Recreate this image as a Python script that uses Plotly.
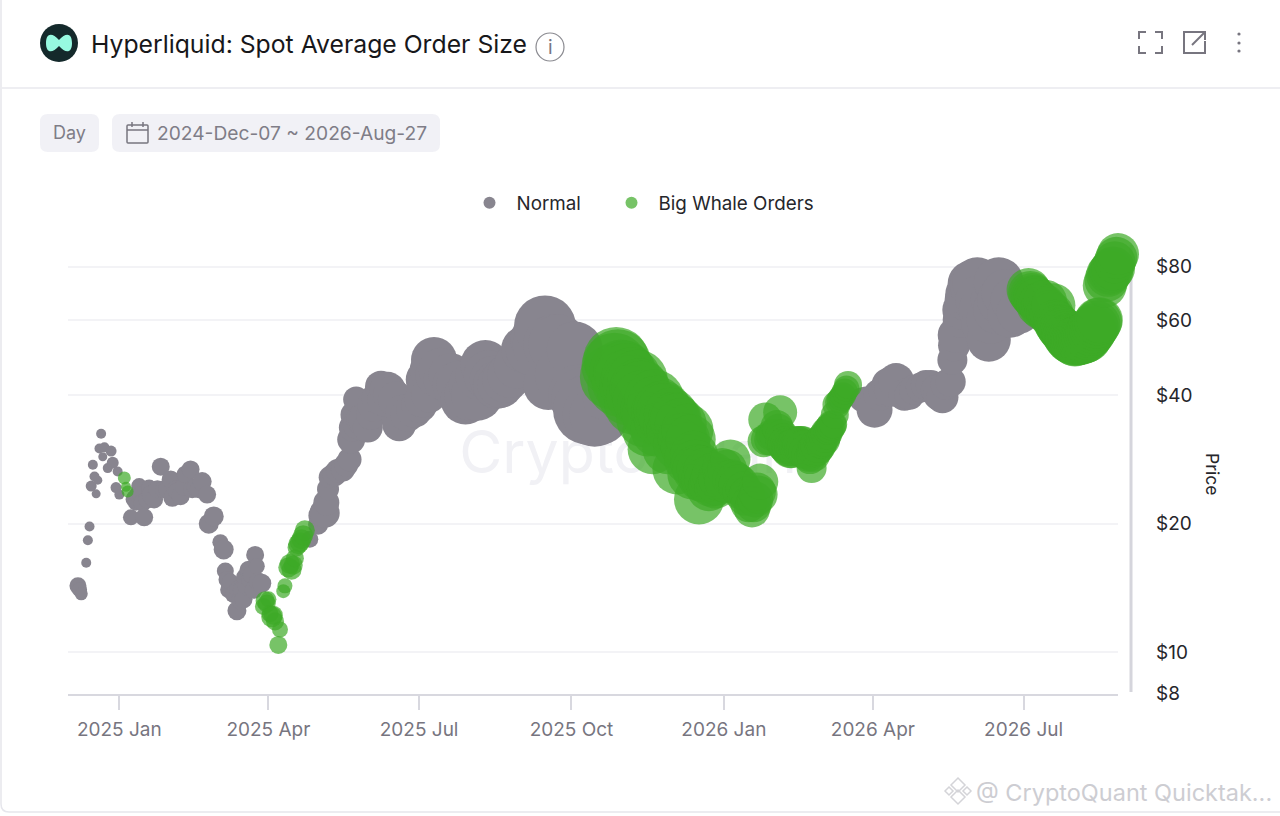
import plotly.graph_objects as go

# values, date / price / avg order size ($k)
normal_dates = [
    "2024-12-07","2024-12-08","2024-12-09","2024-12-12","2024-12-13","2024-12-14","2024-12-15","2024-12-16",
    "2024-12-17","2024-12-18","2024-12-19","2024-12-20","2024-12-21","2024-12-22","2024-12-23","2024-12-25",
    "2024-12-27","2024-12-28","2024-12-30","2024-12-31","2025-01-01","2025-01-08","2025-01-09","2025-01-10",
    "2025-01-11","2025-01-12","2025-01-13","2025-01-14","2025-01-15","2025-01-16","2025-01-18","2025-01-19",
    "2025-01-20","2025-01-22","2025-01-24","2025-01-26","2025-01-28","2025-01-30","2025-02-01","2025-02-02",
    "2025-02-04","2025-02-05","2025-02-07","2025-02-09","2025-02-10","2025-02-13","2025-02-14","2025-02-16",
    "2025-02-18","2025-02-20","2025-02-23","2025-02-24","2025-02-27","2025-03-03","2025-03-05","2025-03-06",
    "2025-03-07","2025-03-08","2025-03-09","2025-03-11","2025-03-12","2025-03-13","2025-03-14","2025-03-15",
    "2025-03-16","2025-03-17","2025-03-18","2025-03-19","2025-03-20","2025-03-21","2025-03-22","2025-03-23",
    "2025-03-24","2025-03-25","2025-03-26","2025-03-28","2025-04-26","2025-05-01","2025-05-03","2025-05-05",
    "2025-05-06","2025-05-07","2025-05-08","2025-05-11","2025-05-13","2025-05-16","2025-05-18","2025-05-20",
    "2025-05-21","2025-05-22","2025-05-23","2025-05-24","2025-05-25","2025-05-27","2025-05-29","2025-05-31",
    "2025-06-02","2025-06-04","2025-06-06","2025-06-08","2025-06-10","2025-06-12","2025-06-14","2025-06-17",
    "2025-06-19","2025-06-21","2025-06-24","2025-06-28","2025-07-01","2025-07-03","2025-07-05","2025-07-07",
    "2025-07-08","2025-07-10","2025-07-12","2025-07-14","2025-07-17","2025-07-20","2025-07-23","2025-07-26",
    "2025-07-29","2025-08-01","2025-08-03","2025-08-05","2025-08-07","2025-08-10","2025-08-12","2025-08-15",
    "2025-08-17","2025-08-19","2025-08-22","2025-08-25","2025-08-29","2025-09-03","2025-09-07","2025-09-11",
    "2025-09-13","2025-09-15","2025-09-17","2025-09-20","2025-09-23","2025-09-27","2025-10-03","2025-10-05",
    "2025-10-08","2025-10-11","2025-10-15","2025-10-18","2025-10-20","2026-03-25","2026-03-28","2026-04-02",
    "2026-04-05","2026-04-08","2026-04-10","2026-04-12","2026-04-15","2026-04-20","2026-04-23","2026-04-26",
    "2026-04-30","2026-05-03","2026-05-06","2026-05-09","2026-05-11","2026-05-13","2026-05-15","2026-05-18",
    "2026-05-19","2026-05-20","2026-05-21","2026-05-24","2026-05-25","2026-05-27","2026-05-28","2026-05-30",
    "2026-06-01","2026-06-03","2026-06-05","2026-06-07","2026-06-08","2026-06-10","2026-06-11","2026-06-13",
    "2026-06-15","2026-06-16","2026-06-18","2026-06-20","2026-06-23","2026-06-25","2026-06-28"]
normal_price = [
    14.3,14.0,13.7,16.2,18.3,19.7,24.5,27.5,
    25.8,23.5,25.3,30.0,32.5,28.7,30.2,27.0,
    29.6,27.8,24.3,26.5,23.4,20.7,22.8,23.0,
    22.4,23.4,24.5,23.4,22.4,20.7,22.8,24.3,
    23.4,22.8,24.1,27.2,24.1,24.1,25.4,23.0,
    24.1,23.8,23.2,24.4,26.1,26.8,24.1,24.4,
    24.1,25.1,23.4,20.0,20.8,18.1,17.4,15.5,
    14.8,14.0,14.6,13.7,13.7,12.5,14.0,13.2,
    14.0,13.3,15.0,14.3,15.6,14.8,15.2,14.0,
    16.9,15.9,14.6,14.5,18.4,19.9,20.9,21.2,
    22.4,24.1,25.7,26.1,26.6,26.8,27.5,28.3,
    31.5,33.6,36.0,39.1,34.2,35.1,35.1,33.6,
    36.0,38.0,39.5,41.9,39.1,41.2,40.1,39.1,
    34.2,36.6,36.0,37.0,38.0,39.1,43.5,40.1,
    45.9,48.4,44.6,45.9,43.5,44.6,42.3,42.4,
    39.1,40.1,42.3,40.1,44.6,47.1,44.6,43.5,
    42.3,42.3,43.5,44.6,47.0,51.2,51.2,54.0,
    52.6,58.0,42.3,52.6,52.6,44.6,51.2,40.1,
    39.1,37.0,36.0,36.0,39.1,39.1,39.1,37.0,
    40.1,41.0,42.5,41.2,43.2,40.1,40.1,41.2,
    41.7,42.3,42.3,41.2,40.1,39.6,42.3,43.0,
    48.4,52.4,55.4,60.1,63.4,66.9,69.0,73.0,
    72.5,73.6,66.9,63.4,58.8,54.0,60.1,66.9,
    63.4,73.6,66.9,69.4,61.8,66.9,62.7]
normal_order_size = [
    1.7,1.5,1.3,1.0,1.0,1.0,1.1,1.0,
    1.0,0.9,0.9,1.0,1.0,0.9,1.0,1.0,
    1.1,1.2,1.1,1.0,1.0,1.6,1.4,1.6,
    1.6,1.7,1.6,1.7,1.8,1.8,1.8,1.6,
    1.8,1.8,1.8,1.8,1.8,1.8,1.8,1.8,
    1.8,1.8,1.8,1.8,1.8,1.8,1.8,1.8,
    1.8,1.9,1.8,2.0,2.0,1.6,2.0,1.7,
    1.7,1.7,1.7,1.8,1.9,1.9,1.9,1.8,
    1.8,1.8,1.8,1.9,1.8,1.8,1.8,1.8,
    1.8,1.6,1.9,1.9,1.7,2.0,2.6,3.0,
    2.6,2.2,2.2,2.4,2.4,2.4,2.4,2.4,
    2.8,2.8,2.8,2.6,3.0,3.0,3.2,3.0,
    3.0,3.4,3.2,3.2,3.4,3.6,3.6,3.6,
    3.4,3.4,3.4,3.6,3.6,3.6,4.0,3.6,
    4.2,4.6,4.4,4.4,4.4,4.4,4.6,4.8,
    5.0,5.2,5.0,5.2,5.0,5.0,5.0,4.8,
    4.8,4.6,4.6,4.6,4.6,4.8,5.2,5.6,
    5.8,6.2,5.0,6.0,6.0,6.0,5.6,6.0,
    6.4,7.0,6.4,6.0,4.0,2.4,2.6,3.6,
    3.2,3.2,3.2,3.4,3.6,3.2,3.0,3.0,
    3.0,3.0,3.0,3.0,3.2,3.2,3.0,3.0,
    3.0,3.2,3.6,3.6,4.0,4.2,4.4,4.6,
    4.8,5.0,5.0,5.0,4.8,4.4,4.8,4.6,
    4.8,5.0,5.0,4.8,4.6,4.6,4.4]

whale_dates = [
    "2025-01-04","2025-01-05","2025-01-06","2025-03-29","2025-03-30","2025-03-31","2025-04-01","2025-04-02",
    "2025-04-03","2025-04-04","2025-04-05","2025-04-07","2025-04-08","2025-04-10","2025-04-11","2025-04-13",
    "2025-04-14","2025-04-15","2025-04-16","2025-04-17","2025-04-18","2025-04-19","2025-04-20","2025-04-21",
    "2025-04-22","2025-04-23","2025-10-26","2025-10-27","2025-10-28","2025-10-29","2025-10-30","2025-10-31",
    "2025-11-01","2025-11-02","2025-11-03","2025-11-04","2025-11-05","2025-11-06","2025-11-07","2025-11-08",
    "2025-11-09","2025-11-10","2025-11-11","2025-11-12","2025-11-13","2025-11-14","2025-11-15","2025-11-16",
    "2025-11-17","2025-11-18","2025-11-19","2025-11-20","2025-11-21","2025-11-22","2025-11-23","2025-11-24",
    "2025-11-25","2025-11-26","2025-11-27","2025-11-28","2025-11-29","2025-11-30","2025-12-01","2025-12-02",
    "2025-12-03","2025-12-04","2025-12-05","2025-12-06","2025-12-07","2025-12-08","2025-12-09","2025-12-10",
    "2025-12-11","2025-12-12","2025-12-13","2025-12-14","2025-12-15","2025-12-16","2025-12-17","2025-12-18",
    "2025-12-19","2025-12-20","2025-12-21","2025-12-22","2025-12-23","2025-12-24","2025-12-25","2025-12-26",
    "2025-12-27","2025-12-28","2025-12-29","2025-12-30","2025-12-31","2026-01-01","2026-01-02","2026-01-03",
    "2026-01-05","2026-01-06","2026-01-08","2026-01-09","2026-01-10","2026-01-11","2026-01-13","2026-01-14",
    "2026-01-15","2026-01-16","2026-01-18","2026-01-19","2026-01-20","2026-01-21","2026-01-22","2026-01-23",
    "2026-01-25","2026-01-26","2026-01-27","2026-01-29","2026-01-30","2026-02-01","2026-02-02","2026-02-03",
    "2026-02-04","2026-02-05","2026-02-06","2026-02-07","2026-02-08","2026-02-09","2026-02-10","2026-02-11",
    "2026-02-12","2026-02-13","2026-02-14","2026-02-15","2026-02-16","2026-02-17","2026-02-18","2026-02-19",
    "2026-02-20","2026-02-21","2026-02-22","2026-02-23","2026-02-24","2026-02-25","2026-02-26","2026-02-27",
    "2026-02-28","2026-03-01","2026-03-02","2026-03-03","2026-03-04","2026-03-05","2026-03-06","2026-03-07",
    "2026-03-08","2026-03-09","2026-03-10","2026-03-11","2026-03-12","2026-03-13","2026-03-14","2026-03-15",
    "2026-03-16","2026-03-17","2026-07-04","2026-07-05","2026-07-06","2026-07-07","2026-07-08","2026-07-09",
    "2026-07-10","2026-07-11","2026-07-12","2026-07-13","2026-07-14","2026-07-15","2026-07-16","2026-07-17",
    "2026-07-18","2026-07-19","2026-07-20","2026-07-21","2026-07-22","2026-07-23","2026-07-24","2026-07-25",
    "2026-07-26","2026-07-27","2026-07-28","2026-07-29","2026-07-30","2026-07-31","2026-08-01","2026-08-02",
    "2026-08-03","2026-08-04","2026-08-05","2026-08-06","2026-08-07","2026-08-08","2026-08-09","2026-08-10",
    "2026-08-11","2026-08-12","2026-08-13","2026-08-14","2026-08-15","2026-08-16","2026-08-19","2026-08-20",
    "2026-08-21","2026-08-22","2026-08-23","2026-08-24","2026-08-25","2026-08-26","2026-08-27"]
whale_price = [
    25.6,24.4,23.8,12.8,13.2,13.0,13.3,12.3,
    12.1,12.2,11.8,10.4,11.3,13.9,14.3,15.8,
    16.1,15.6,16.0,16.6,17.6,17.9,18.1,18.4,
    18.8,19.3,44.2,46.9,48.4,47.8,42.3,45.4,
    43.0,45.4,44.8,40.0,42.3,44.0,42.3,38.0,
    40.0,43.5,41.5,41.0,39.0,35.1,38.0,32.9,
    37.0,36.0,29.9,39.1,38.0,33.2,36.7,35.0,
    37.0,36.7,35.1,29.9,34.0,36.0,33.2,35.4,
    35.1,26.8,30.7,34.2,31.8,31.5,30.2,33.2,
    28.3,31.5,26.1,29.0,27.5,26.8,22.8,26.8,
    25.6,25.4,26.8,25.4,24.1,24.7,25.4,26.1,
    24.3,24.7,25.6,25.4,27.0,25.6,25.1,26.8,
    28.3,25.4,25.1,24.5,24.7,23.8,24.1,23.0,
    23.4,22.2,21.6,22.2,22.8,23.8,23.4,25.1,
    31.2,35.1,31.5,31.5,32.3,32.3,33.9,33.2,
    36.5,32.0,31.2,30.6,30.6,30.2,29.9,29.9,
    30.2,30.2,30.6,30.4,30.6,30.6,30.0,29.9,
    29.5,29.0,28.5,27.0,29.0,29.9,30.2,30.6,
    31.0,31.0,31.5,32.0,32.6,33.2,33.5,34.0,
    34.2,36.0,38.0,38.5,39.0,39.5,40.0,40.8,
    41.5,42.3,70.6,69.5,68.7,68.0,67.5,66.9,
    65.0,65.5,64.0,65.0,66.3,63.5,62.5,61.8,
    62.0,65.0,59.5,58.8,58.0,57.5,57.0,56.5,
    56.0,55.2,54.6,54.2,54.0,53.7,53.5,53.7,
    53.8,54.0,54.0,54.2,54.4,54.6,55.2,55.8,
    56.4,57.0,57.8,58.6,59.5,60.0,72.3,74.5,
    76.6,77.5,78.5,79.3,82.0,84.0,85.7]
whale_order_size = [
    1.3,1.0,1.2,1.7,1.9,1.8,1.6,1.7,
    2.1,1.9,1.8,1.8,1.6,1.4,1.5,2.0,
    2.0,2.0,1.9,1.8,1.8,2.0,2.0,2.0,
    2.0,2.0,6.6,6.6,6.6,6.6,6.4,6.4,
    6.2,6.2,6.2,6.0,6.0,6.0,6.0,6.0,
    6.0,6.0,6.0,6.0,6.0,5.6,5.8,5.0,
    5.8,5.8,5.0,6.0,5.8,5.4,5.6,5.4,
    5.8,5.6,5.4,5.0,5.2,5.4,5.2,5.2,
    5.2,5.0,5.2,5.2,5.0,5.2,5.0,5.2,
    5.0,5.0,5.0,4.8,5.0,5.0,5.0,4.8,
    4.8,4.6,4.4,4.6,4.4,4.4,4.4,4.4,
    4.2,4.2,4.2,4.4,4.0,4.0,4.2,4.0,
    4.0,4.0,4.0,3.8,4.0,3.6,3.6,3.6,
    3.6,3.6,3.6,3.6,3.6,3.8,3.8,3.6,
    3.2,3.4,3.2,3.2,3.2,3.2,3.2,3.2,
    3.4,3.4,3.6,3.6,3.8,3.8,3.8,3.8,
    3.8,3.8,3.8,3.8,3.8,3.8,3.8,3.8,
    3.6,3.4,3.2,3.0,3.4,3.6,3.6,3.6,
    3.2,3.2,3.4,3.2,3.2,3.0,3.0,3.0,
    2.8,2.8,2.8,2.6,2.6,2.6,2.6,2.6,
    2.6,2.8,4.4,4.4,4.4,4.4,4.4,4.4,
    4.4,4.4,4.4,4.4,4.4,4.4,4.4,4.4,
    4.4,4.4,4.4,4.5,4.5,4.6,4.6,4.7,
    4.7,4.8,4.8,4.9,4.9,5.0,5.0,5.0,
    5.0,5.0,5.0,5.0,5.0,5.0,4.9,4.9,
    4.9,4.8,4.8,4.8,4.8,4.6,4.4,4.4,
    4.4,4.4,4.4,4.4,4.2,4.2,4.2]

x_tick_dates = ["2025-01-01","2025-04-01","2025-07-01","2025-10-01","2026-01-01","2026-04-01","2026-07-01"]
x_tick_labels = ["2025 Jan","2025 Apr","2025 Jul","2025 Oct","2026 Jan","2026 Apr","2026 Jul"]
y_tick_values = [8,10,20,40,60,80]
y_tick_labels = ["$8","$10","$20","$40","$60","$80"]

W, H = 1280, 816
FONT = "Inter"

def X(px):
    return px / W

def Y(py):
    return 1 - py / H

def rrect(x0, y0, x1, y1, r):
    return (f"M {X(x0+r)} {Y(y0)} L {X(x1-r)} {Y(y0)} Q {X(x1)} {Y(y0)} {X(x1)} {Y(y0+r)} "
            f"L {X(x1)} {Y(y1-r)} Q {X(x1)} {Y(y1)} {X(x1-r)} {Y(y1)} "
            f"L {X(x0+r)} {Y(y1)} Q {X(x0)} {Y(y1)} {X(x0)} {Y(y1-r)} "
            f"L {X(x0)} {Y(y0+r)} Q {X(x0)} {Y(y0)} {X(x0+r)} {Y(y0)} Z")

def poly(points, close=False):
    s = " ".join(("M" if i == 0 else "L") + f" {X(p[0])} {Y(p[1])}" for i, p in enumerate(points))
    return s + (" Z" if close else "")

def path_shape(path, fill=None, line=None, width=0):
    return dict(type="path", xref="paper", yref="paper", path=path, fillcolor=fill or "rgba(0,0,0,0)",
                line=dict(color=line or "rgba(0,0,0,0)", width=width))

def circle(cx, cy, r, fill=None, line=None, width=0):
    return dict(type="circle", xref="paper", yref="paper", x0=X(cx-r), x1=X(cx+r), y0=Y(cy+r), y1=Y(cy-r),
                fillcolor=fill or "rgba(0,0,0,0)", line=dict(color=line or "rgba(0,0,0,0)", width=width))

def label(px, py, text, size, color, anchor="left", angle=0, font=FONT):
    return dict(xref="paper", yref="paper", x=X(px), y=Y(py), text=text, showarrow=False, xanchor=anchor,
                yanchor="middle", textangle=angle, font=dict(family=font, size=size, color=color))

def legend_box(px):
    return dict(orientation="h", x=X(px), y=Y(203), xanchor="left", yanchor="middle", itemsizing="constant",
                itemwidth=44, font=dict(family=FONT, size=18.8, color="#26262B"), bgcolor="rgba(0,0,0,0)")

fig = go.Figure()

# watermark sits under the bubbles
fig.add_trace(go.Scatter(x=["2025-11-10"], y=[28.5], mode="text", text=["CryptoQuant"], showlegend=False,
                         hoverinfo="skip", cliponaxis=False,
                         textfont=dict(family=FONT, size=59, color="#F1F1F5")))

fig.add_trace(go.Scatter(x=normal_dates, y=normal_price, mode="markers", name="Normal", cliponaxis=False,
                         legend="legend",
                         marker=dict(size=normal_order_size, sizemode="diameter", sizeref=0.1,
                                     color="#88858F", opacity=1, line=dict(width=0))))
fig.add_trace(go.Scatter(x=whale_dates, y=whale_price, mode="markers", name="Big Whale Orders", cliponaxis=False,
                         legend="legend2",
                         marker=dict(size=whale_order_size, sizemode="diameter", sizeref=0.1,
                                     color="#3DAA26", opacity=0.7, line=dict(width=0))))

shapes = [
    # card
    path_shape(rrect(1, -10, 1290, 812, 8), line="#E6E6EC", width=1.5),
    dict(type="line", xref="paper", yref="paper", x0=X(2), x1=1, y0=Y(88), y1=Y(88), line=dict(color="#E8E8EE", width=1.5)),
    # price axis line, under the bubbles
    dict(type="line", xref="paper", yref="paper", x0=X(1131), x1=X(1131), y0=Y(692), y1=Y(245), layer="below",
         line=dict(color="#D5D5DC", width=3)),
    # logo
    circle(59, 43, 19, fill="#14292B"),
    path_shape(f"M {X(46)} {Y(43)} C {X(46)} {Y(33)} {X(52)} {Y(32)} {X(59)} {Y(40)} "
               f"C {X(66)} {Y(32)} {X(72)} {Y(33)} {X(72)} {Y(43)} "
               f"C {X(72)} {Y(53)} {X(66)} {Y(54)} {X(59)} {Y(46)} "
               f"C {X(52)} {Y(54)} {X(46)} {Y(53)} {X(46)} {Y(43)} Z", fill="#97F9E0"),
    # info icon
    circle(550, 47, 14, line="#8A8A90", width=1.2),
    # buttons
    path_shape(rrect(40, 114, 99, 152, 8), fill="#F1F1F6"),
    path_shape(rrect(112, 114, 440, 152, 8), fill="#F1F1F6"),
    # calendar
    path_shape(rrect(127, 125, 148, 143, 1), line="#77757F", width=1.5),
    path_shape(poly([(127, 130), (148, 130)]), line="#77757F", width=1.5),
    path_shape(poly([(132, 122), (132, 127)]), line="#77757F", width=1.5),
    path_shape(poly([(143, 122), (143, 127)]), line="#77757F", width=1.5),
    # fullscreen corners
    path_shape(poly([(1139, 39), (1139, 32), (1146, 32)]), line="#77757F", width=2),
    path_shape(poly([(1155, 32), (1162, 32), (1162, 39)]), line="#77757F", width=2),
    path_shape(poly([(1139, 46), (1139, 53), (1146, 53)]), line="#77757F", width=2),
    path_shape(poly([(1155, 53), (1162, 53), (1162, 46)]), line="#77757F", width=2),
    # open in new
    path_shape(poly([(1197, 32), (1184, 32), (1184, 53), (1205, 53), (1205, 41)]), line="#77757F", width=2),
    path_shape(poly([(1192, 45), (1205, 32)]), line="#77757F", width=2),
    path_shape(poly([(1197, 32), (1205, 32), (1205, 40)]), line="#77757F", width=2),
    # dots
    circle(1239, 34, 1.6, fill="#77757F"),
    circle(1239, 43, 1.6, fill="#77757F"),
    circle(1239, 51, 1.6, fill="#77757F"),
    # binance mark in the watermark
    path_shape(poly([(958, 778), (965, 785), (958, 792), (951, 785)], True), line="#D4D4D8", width=1.5),
    path_shape(poly([(958, 790), (965, 797), (958, 804), (951, 797)], True), line="#D4D4D8", width=1.5),
    path_shape(poly([(949, 787), (953, 791), (949, 795), (945, 791)], True), line="#D4D4D8", width=1.5),
    path_shape(poly([(967, 787), (971, 791), (967, 795), (963, 791)], True), line="#D4D4D8", width=1.5),
]

annotations = [
    label(89, 44, "Hyperliquid: Spot Average Order Size", 24.75, "#17171A"),
    label(550, 47, "i", 19, "#77757F", anchor="center"),
    label(69.5, 133, "Day", 18, "#7F7D87", anchor="center"),
    label(155, 133, "2024-Dec-07 ~ 2026-Aug-27", 19.2, "#7F7D87"),
    label(1213, 474, "Price", 17.5, "#26262B", anchor="center", angle=90),
    label(974, 792, "@ CryptoQuant Quicktak...", 23.5, "#CDCDD2"),
]

fig.update_layout(
    width=W, height=H,
    margin=dict(l=0, r=0, t=0, b=0, autoexpand=False),
    paper_bgcolor="white", plot_bgcolor="white",
    font=dict(family=FONT),
    shapes=shapes,
    annotations=annotations,
    showlegend=True,
    legend=legend_box(462.5),
    legend2=legend_box(604.5),
    xaxis=dict(type="date", domain=[X(68), X(1118)], range=["2024-12-01", "2026-08-27"],
               tickmode="array", tickvals=x_tick_dates, ticktext=x_tick_labels,
               showgrid=False, zeroline=False, showline=True, linecolor="#D8D8DF", linewidth=1.5,
               ticks="outside", ticklen=15, tickcolor="#D8D8DF", tickwidth=1.5, ticklabelstandoff=3,
               tickfont=dict(family=FONT, size=19, color="#77757F")),
    yaxis=dict(type="log", domain=[Y(693.5), Y(245)], range=[0.90309, 1.95424], anchor="free", position=X(1131),
               side="right", tickmode="array", tickvals=y_tick_values, ticktext=y_tick_labels,
               showgrid=True, gridcolor="#F3F3F6", gridwidth=1.5, zeroline=False,
               showline=False, ticks="", ticklabelstandoff=24,
               tickfont=dict(family=FONT, size=19, color="#26262B")),
)

fig.write_html("out.html", config={"displayModeBar": False}, post_script="document.body.style.margin='0';")
